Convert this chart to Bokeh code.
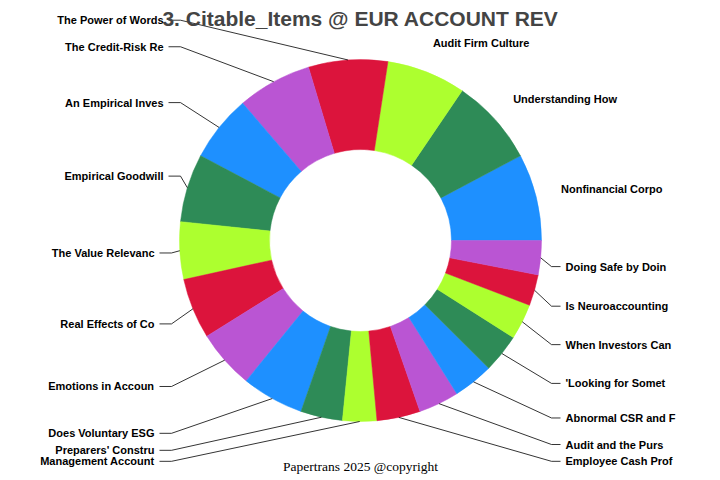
import math
from bokeh.plotting import figure
from bokeh.models import Range1d
from bokeh.embed import file_html
from bokeh.resources import INLINE
from bokeh.core.properties import value

# ---- data -------------------------------------------------------------
titles = [
    "Nonfinancial Corpo", "Understanding How", "Audit Firm Culture",
    "The Power of Words", "The Credit-Risk Re", "An Empirical Inves",
    "Empirical Goodwill", "The Value Relevanc", "Real Effects of Co",
    "Emotions in Accoun", "Does Voluntary ESG", "Preparers' Constru",
    "Management Account", "Employee Cash Prof", "Audit and the Purs",
    "Abnormal CSR and F", "'Looking for Somet", "When Investors Can",
    "Is Neuroaccounting", "Doing Safe by Doin",
]
citable_items = [28, 28, 25.5, 25.5, 24, 21.5, 22, 18.5, 19.5, 19,
                 20, 13.5, 11, 14, 13, 13, 12.5, 11.5, 10, 11]
palette = ["#1E90FF", "#2E8B57", "#ADFF2F", "#DC143C", "#BA55D3"]
chart_title = "3. Citable_Items @ EUR ACCOUNT REV"
footer = "Papertrans 2025 @copyright"

# ---- geometry ---------------------------------------------------------
CX, CY = 360, 240
R_OUT, R_IN = 181, 91
LABEL_R = 1.22 * R_OUT
FREE_R = 1.17 * R_OUT
MIN_GAP = 11

total = float(sum(citable_items))
starts, ends, mids = [], [], []
acc = 0.0
for v in citable_items:
    a0 = acc / total * 2 * math.pi
    acc += v
    a1 = acc / total * 2 * math.pi
    starts.append(a0)
    ends.append(a1)
    mids.append((a0 + a1) / 2)
colors = [palette[i % len(palette)] for i in range(len(citable_items))]

p = figure(width=720, height=480, output_backend="svg", toolbar_location=None,
           x_range=Range1d(0, 720), y_range=Range1d(0, 480),
           x_axis_location=None, y_axis_location=None, min_border=0)
p.grid.visible = False
p.outline_line_color = None
p.background_fill_color = "white"
p.border_fill_color = "white"

p.annular_wedge(x=CX, y=CY, inner_radius=R_IN, outer_radius=R_OUT,
                start_angle=starts, end_angle=ends, direction="anticlock",
                fill_color=colors, line_color=colors, line_width=0.5)

# label positions with a simple bottom-up de-overlap per side
n = len(titles)
ly = [CY + LABEL_R * math.sin(m) for m in mids]
for side in (1, -1):
    idx = [i for i in range(n) if (math.cos(mids[i]) >= 0) == (side == 1)]
    idx.sort(key=lambda i: ly[i])
    for k in range(1, len(idx)):
        prev, cur = idx[k - 1], idx[k]
        if ly[cur] - ly[prev] < MIN_GAP:
            ly[cur] = ly[prev] + MIN_GAP

xs_lines, ys_lines = [], []
rx, ry, rt = [], [], []
lx, lyy, lt = [], [], []
for i in range(n):
    m = mids[i]
    ax = CX + R_OUT * math.cos(m)
    ay = CY + R_OUT * math.sin(m)
    if math.cos(m) >= 0:
        if math.sin(m) > 0:
            rx.append(CX + FREE_R * math.cos(m) - 5)
            ry.append(CY + FREE_R * math.sin(m))
            rt.append(titles[i])
        else:
            yy = ly[i] - 5
            ex = CX + R_OUT + 10
            xs_lines.append([ax, ex, ex + 9])
            ys_lines.append([ay, yy, yy])
            rx.append(CX + R_OUT + 24)
            ry.append(yy)
            rt.append(titles[i])
    else:
        shift = 9 if math.sin(m) > 0 else 0
        ex = CX - R_OUT - 8 + shift
        xs_lines.append([ax, ex, ex - 12])
        ys_lines.append([ay, ly[i], ly[i]])
        lx.append(ex - 17)
        lyy.append(ly[i])
        lt.append(titles[i])

p.multi_line(xs_lines, ys_lines, line_color="black", line_width=0.8)

lab_font = value("Liberation Sans")
p.text(x=rx, y=ry, text=rt, text_align="left", text_baseline="middle",
       text_font=lab_font, text_font_size="11px", text_font_style="bold",
       text_color="black")
p.text(x=lx, y=lyy, text=lt, text_align="right", text_baseline="middle",
       text_font=lab_font, text_font_size="11px", text_font_style="bold",
       text_color="black")

p.text(x=[CX], y=[462], text=[chart_title], text_align="center",
       text_baseline="middle", text_font=value("Liberation Sans"),
       text_font_size="21px", text_font_style="bold", text_color="#444444")
p.text(x=[CX], y=[14], text=[footer], text_align="center",
       text_baseline="middle", text_font=value("Liberation Serif"),
       text_font_size="13.5px", text_color="black")

open("out.html", "w").write(file_html(p, INLINE))
